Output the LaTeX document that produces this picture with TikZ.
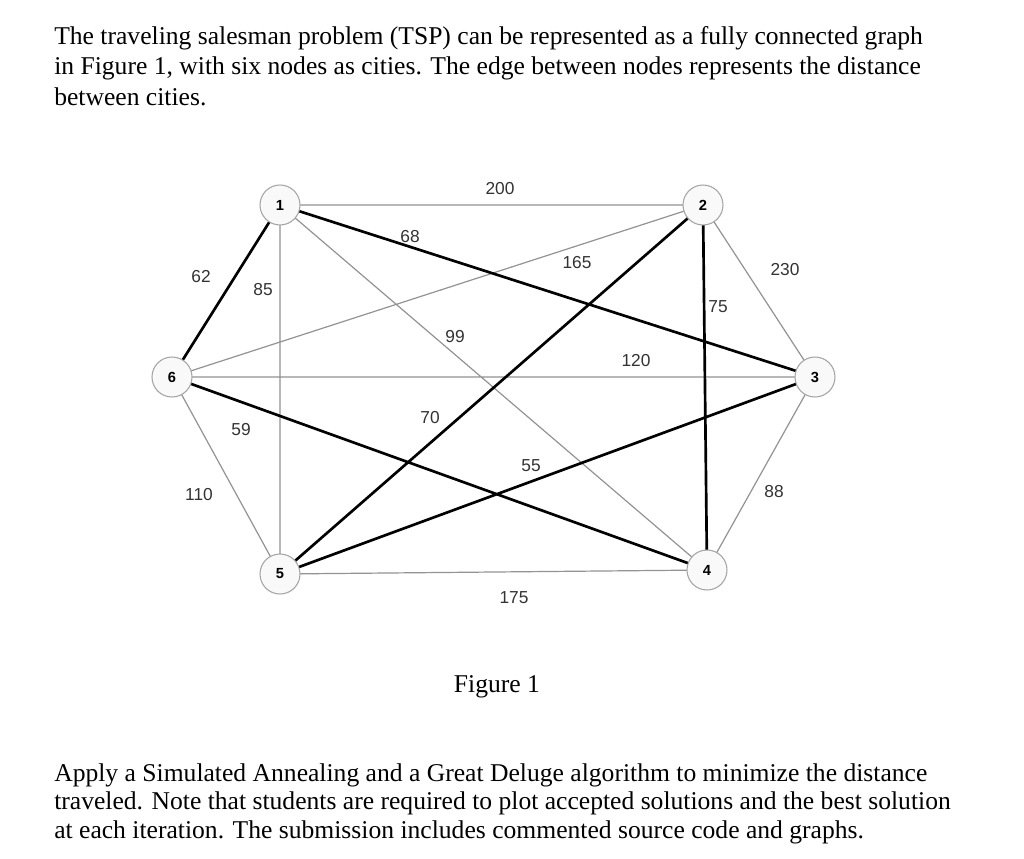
\documentclass[tikz,border=0pt]{standalone}
\usepackage{fontspec}
\setmainfont{Liberation Serif}
\newfontfamily\lblfont{Liberation Sans}
\begin{document}
\begin{tikzpicture}[x=0.75pt,y=-0.75pt,
  city/.style={circle,draw=gray!70,fill=gray!5,line width=0.8pt,minimum size=30pt,inner sep=0pt,font=\lblfont\bfseries\fontsize{11}{12}\selectfont},
  thin/.style={draw=gray!85,line width=0.9pt},
  thick/.style={draw=black,line width=2pt},
  lbl/.style={font=\lblfont\fontsize{13}{14}\selectfont,inner sep=1pt,text=black!80},
  txt/.style={anchor=west,font=\fontsize{19.2}{22}\selectfont,inner sep=0pt}]
\useasboundingbox (0,0) rectangle (1024,858);
\fill[white] (0,0) rectangle (1024,858);
\node[txt] (t1) at (54,38) {The traveling salesman problem (TSP) can be represented as a fully connected graph};
\node[txt] (t2) at (54,68) {in Figure 1, with six nodes as cities. The edge between nodes represents the distance};
\node[txt] (t3) at (54,97) {between cities.};
\node[txt] (t4) at (54,775) {Apply a Simulated Annealing and a Great Deluge algorithm to minimize the distance};
\node[txt] (t5) at (54,803) {traveled. Note that students are required to plot accepted solutions and the best solution};
\node[txt] (t6) at (54,832) {at each iteration. The submission includes commented source code and graphs.};
\node[anchor=center,font=\fontsize{19.2}{22}\selectfont] (fig) at (497,687) {Figure 1};
\coordinate (p1) at (280,205);
\coordinate (p2) at (703,205);
\coordinate (p3) at (815,377);
\coordinate (p4) at (707,570);
\coordinate (p5) at (280,574);
\coordinate (p6) at (172,377);
\path[thin] (p1)--(p2) (p1)--(p4) (p1)--(p5) (p2)--(p6) (p2)--(p3) (p6)--(p3) (p6)--(p5) (p3)--(p4) (p5)--(p4);
\path[thick] (p1)--(p3) (p1)--(p6) (p2)--(p5) (p2)--(p4) (p6)--(p4) (p5)--(p3);
\node[city] (n1) at (p1) {1};
\node[city] (n2) at (p2) {2};
\node[city] (n3) at (p3) {3};
\node[city] (n4) at (p4) {4};
\node[city] (n5) at (p5) {5};
\node[city] (n6) at (p6) {6};
\node[lbl] (l200) at (500,189) {200};
\node[lbl] (l68) at (410,237) {68};
\node[lbl] (l165) at (577,263) {165};
\node[lbl] (l230) at (785,270) {230};
\node[lbl] (l62) at (201,277) {62};
\node[lbl] (l85) at (263,290) {85};
\node[lbl] (l75) at (718,307) {75};
\node[lbl] (l99) at (455,337) {99};
\node[lbl] (l120) at (636,361) {120};
\node[lbl] (l70) at (430,418) {70};
\node[lbl] (l59) at (241,430) {59};
\node[lbl] (l55) at (531,466) {55};
\node[lbl] (l110) at (199,495) {110};
\node[lbl] (l88) at (774,492) {88};
\node[lbl] (l175) at (514,598) {175};
\end{tikzpicture}
\end{document}
